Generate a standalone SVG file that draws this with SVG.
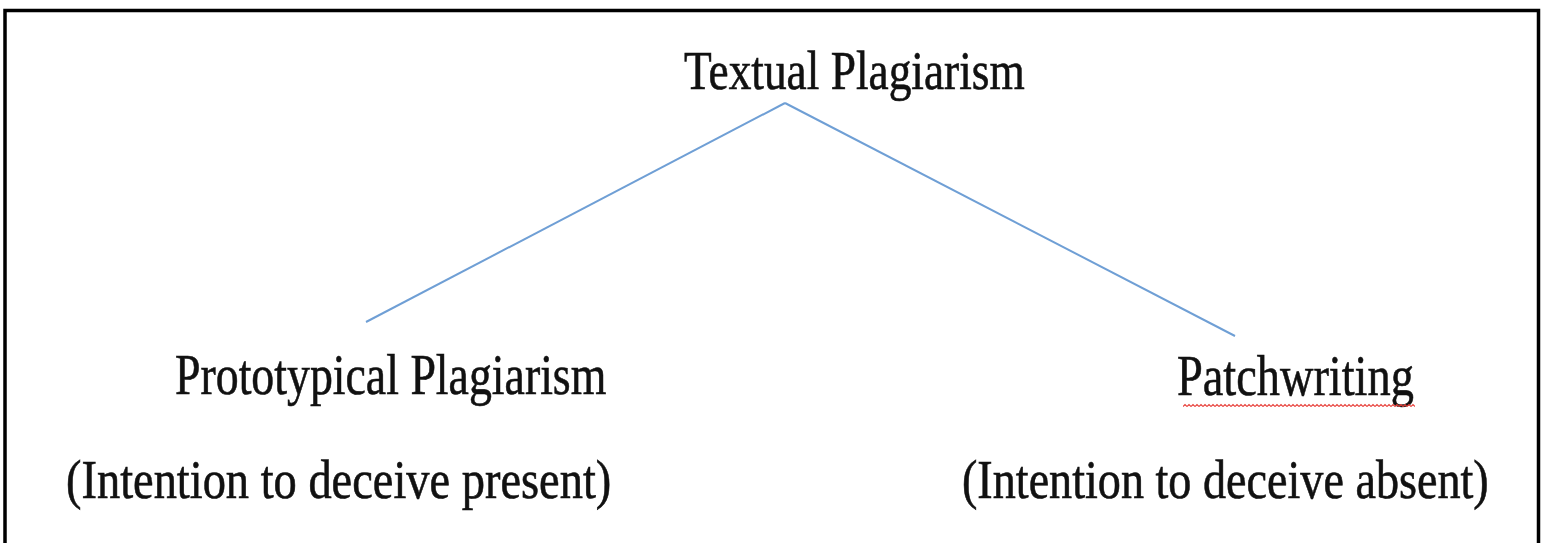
<svg xmlns="http://www.w3.org/2000/svg" width="1552" height="543" viewBox="0 0 1552 543">
<style>
.t{font-family:"Liberation Serif","Times New Roman",serif;fill:#111;stroke:#111;stroke-width:0.6;}
.c{stroke:#6f9fd5;stroke-width:2;fill:none;}
</style>
<defs>
<pattern id="wave" x="1183" y="403" width="4" height="5" patternUnits="userSpaceOnUse">
<path d="M0,3.5 L2,1.5 L4,3.5" fill="none" stroke="#e8403a" stroke-width="1.1"/>
</pattern>
</defs>
<rect width="1552" height="543" fill="#fff"/>
<path d="M5,543 V10.5 H1538.5 V543" fill="none" stroke="#000" stroke-width="3.5"/>
<g id="connectors">
<line class="c" x1="785" y1="103" x2="366" y2="322"/>
<line class="c" x1="785" y1="103" x2="1235" y2="336"/>
</g>
<g id="root">
<text class="t" transform="translate(684,89) scale(0.833,1)" font-size="54" textLength="409" lengthAdjust="spacingAndGlyphs">Textual Plagiarism</text>
</g>
<g id="prototypical">
<text class="t" transform="translate(175,394) scale(0.79,1)" font-size="58" textLength="546" lengthAdjust="spacingAndGlyphs">Prototypical Plagiarism</text>
<text class="t" transform="translate(66,498) scale(0.86,1)" font-size="54" textLength="634" lengthAdjust="spacingAndGlyphs">(Intention to deceive present)</text>
</g>
<g id="patchwriting">
<text class="t" transform="translate(1177,395) scale(0.8,1)" font-size="58" textLength="296" lengthAdjust="spacingAndGlyphs">Patchwriting</text>
<rect x="1183" y="403" width="232" height="5" fill="url(#wave)"/>
<text class="t" transform="translate(962,498) scale(0.855,1)" font-size="54" textLength="616" lengthAdjust="spacingAndGlyphs">(Intention to deceive absent)</text>
</g>
</svg>
